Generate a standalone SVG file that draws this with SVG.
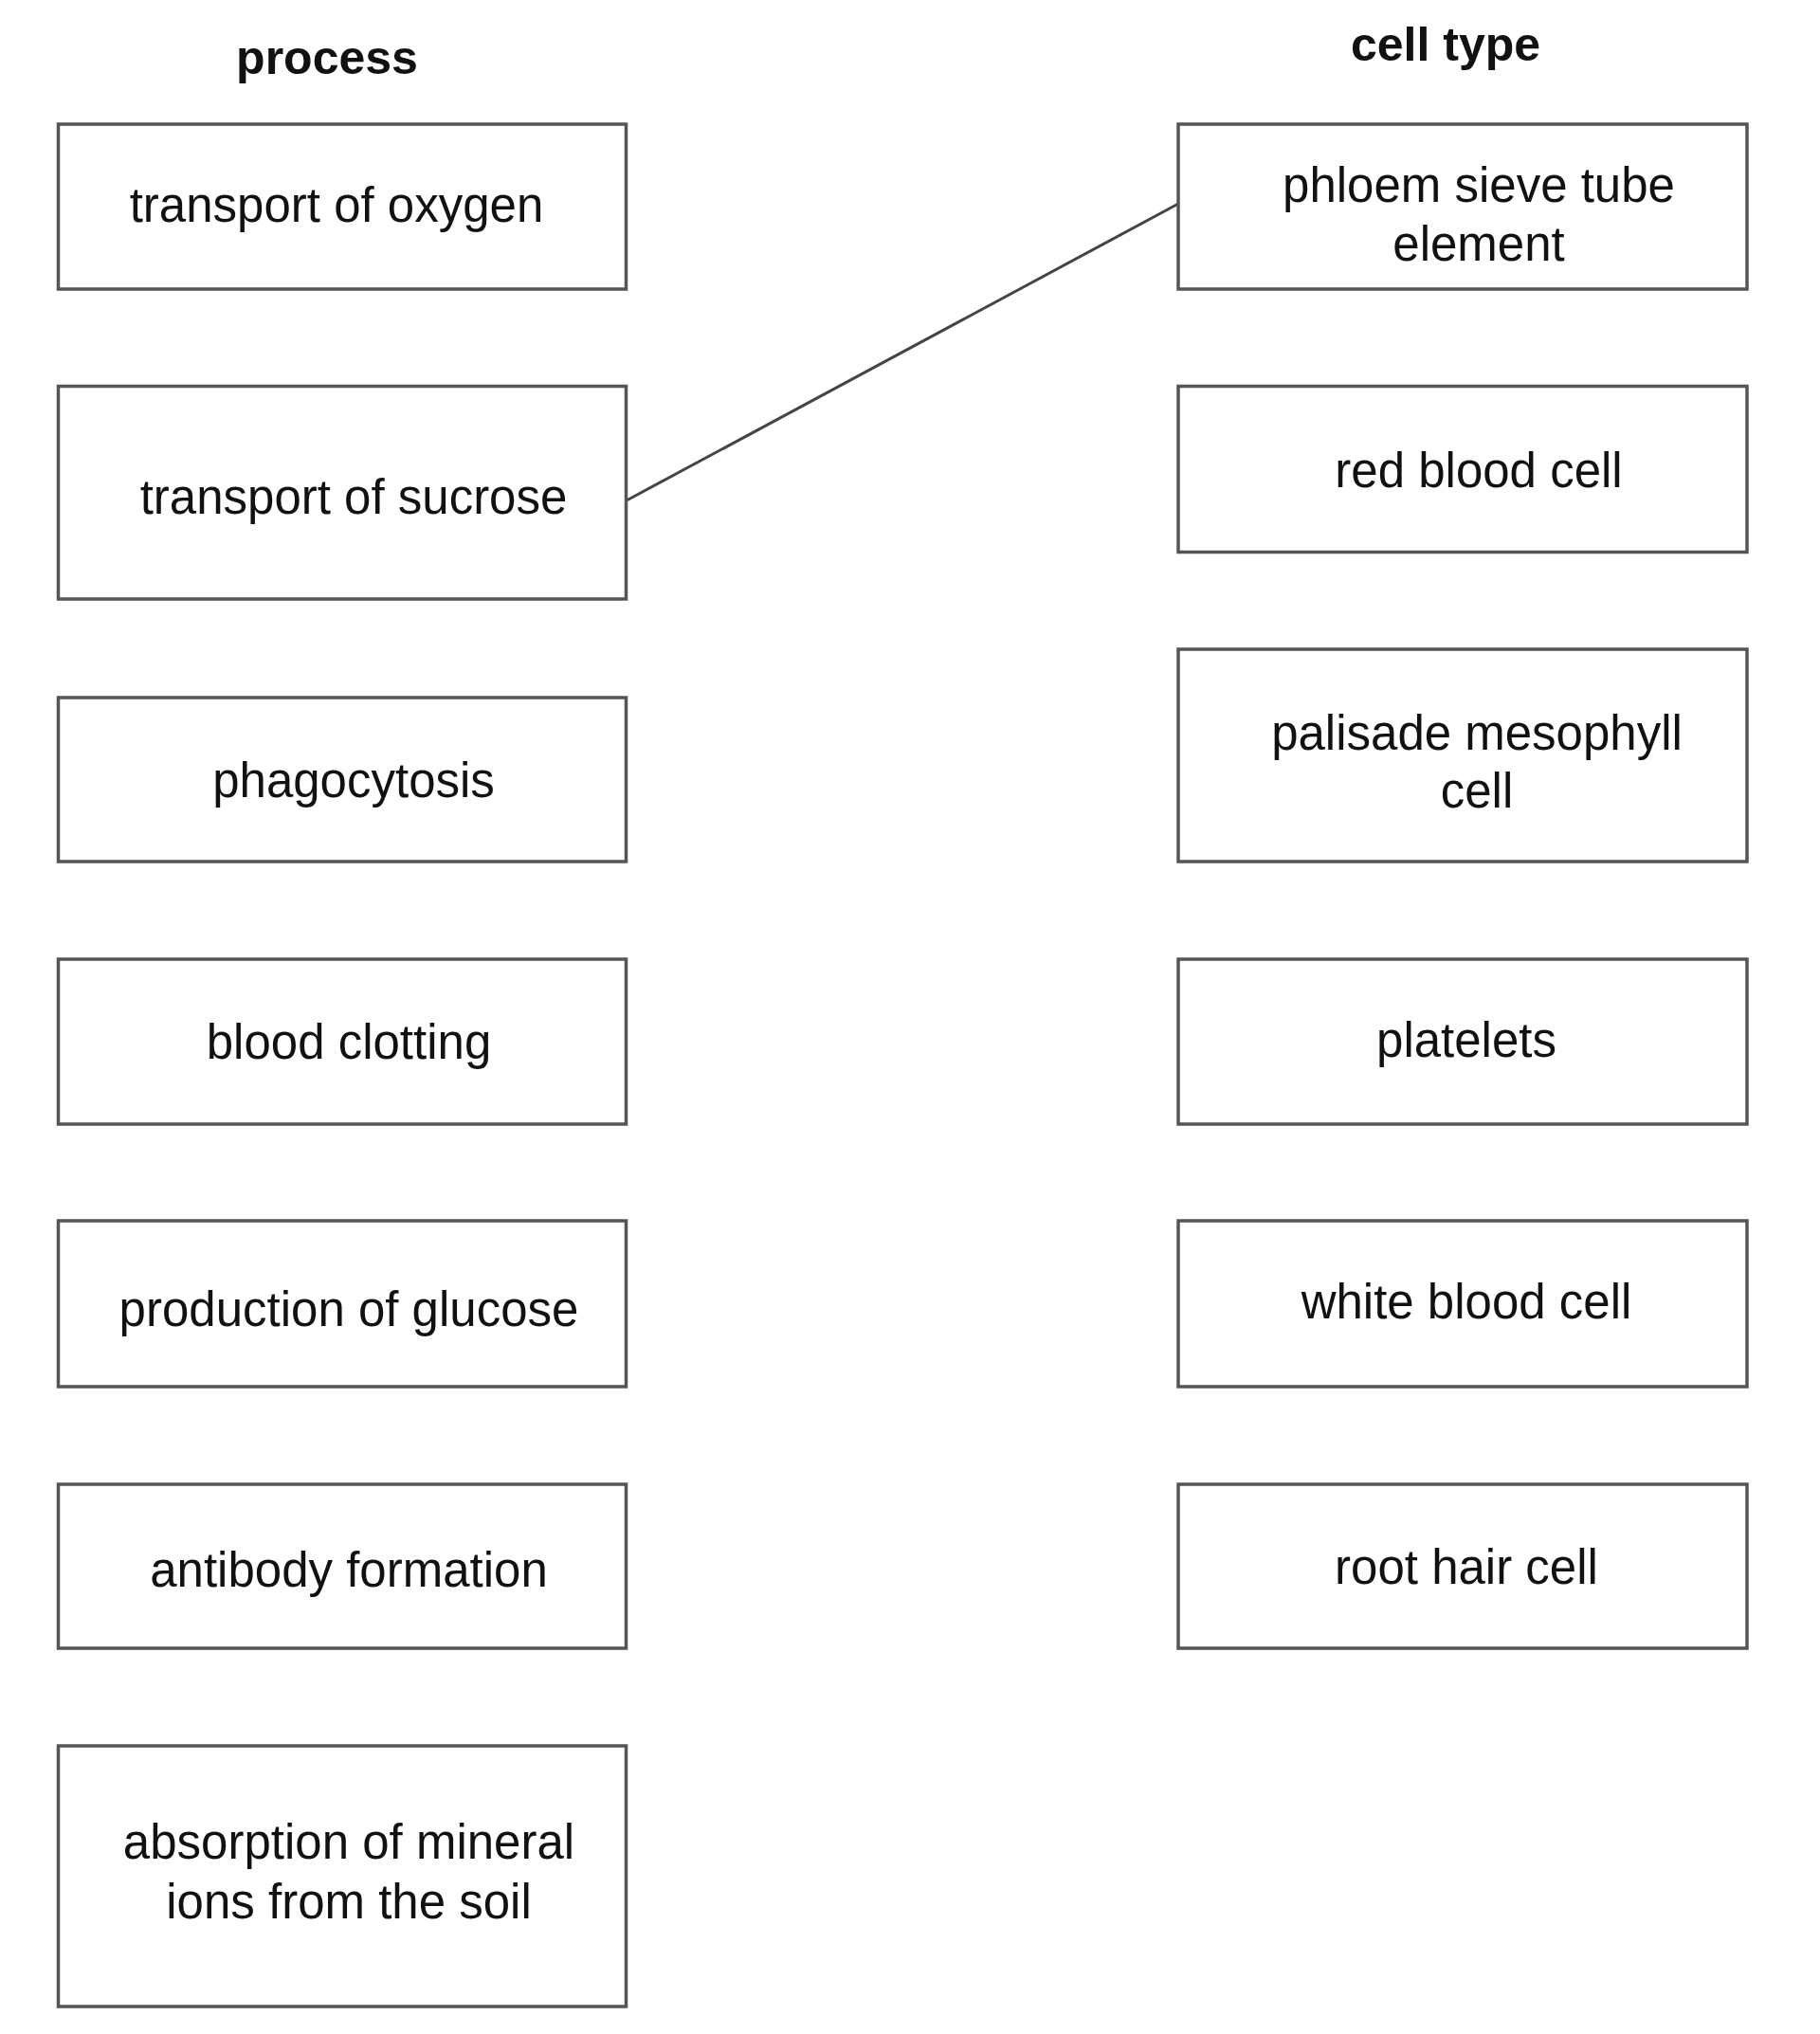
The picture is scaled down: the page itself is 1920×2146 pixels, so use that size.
<svg xmlns="http://www.w3.org/2000/svg" width="1920" height="2146" viewBox="0 0 1920 2146">
<style>
rect{fill:#fff;stroke:#555;stroke-width:3.5}
text{font-family:"Liberation Sans",Arial,sans-serif;font-size:51px;fill:#111;text-anchor:middle}
.h{font-weight:bold;font-size:50px}
</style>
<rect x="0" y="0" width="1920" height="2146" style="stroke:none"/>
<text class="h" x="345" y="78">process</text>
<text class="h" x="1525" y="64">cell type</text>
<g id="connectors"><line x1="661" y1="528" x2="1243" y2="215" stroke="#444" stroke-width="3"/></g>
<g id="p1"><rect x="61.5" y="131" width="599" height="174"/><text x="355" y="234">transport of oxygen</text></g>
<g id="p2"><rect x="61.5" y="407.5" width="599" height="224.5"/><text x="373" y="542">transport of sucrose</text></g>
<g id="p3"><rect x="61.5" y="736" width="599" height="173"/><text x="373" y="841">phagocytosis</text></g>
<g id="p4"><rect x="61.5" y="1012" width="599" height="174"/><text x="368" y="1117">blood clotting</text></g>
<g id="p5"><rect x="61.5" y="1288" width="599" height="175"/><text x="368" y="1399">production of glucose</text></g>
<g id="p6"><rect x="61.5" y="1566" width="599" height="173"/><text x="368" y="1674">antibody formation</text></g>
<g id="p7"><rect x="61.5" y="1842" width="599" height="275"/><text x="368" y="1961">absorption of mineral</text><text x="368" y="2024">ions from the soil</text></g>
<g id="c1"><rect x="1243" y="131" width="600" height="174"/><text x="1560" y="213">phloem sieve tube</text><text x="1560" y="275">element</text></g>
<g id="c2"><rect x="1243" y="407.5" width="600" height="175"/><text x="1560" y="514">red blood cell</text></g>
<g id="c3"><rect x="1243" y="685" width="600" height="224"/><text x="1558" y="791">palisade mesophyll</text><text x="1558" y="852">cell</text></g>
<g id="c4"><rect x="1243" y="1012" width="600" height="174"/><text x="1547" y="1115">platelets</text></g>
<g id="c5"><rect x="1243" y="1288" width="600" height="175"/><text x="1547" y="1391">white blood cell</text></g>
<g id="c6"><rect x="1243" y="1566" width="600" height="173"/><text x="1547" y="1671">root hair cell</text></g>
</svg>
